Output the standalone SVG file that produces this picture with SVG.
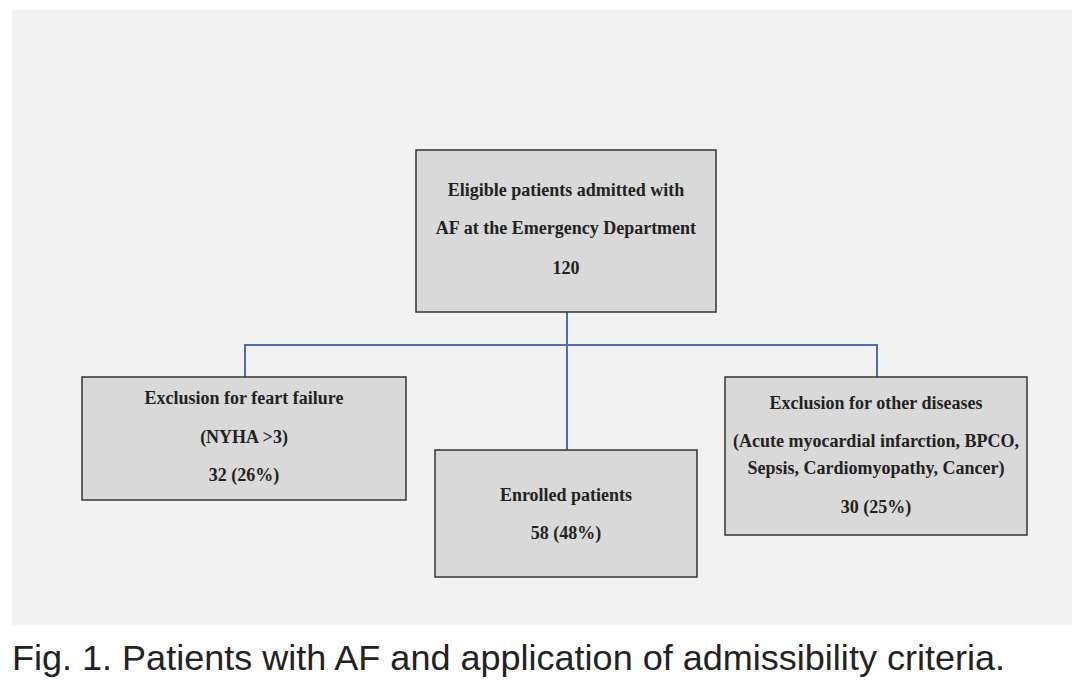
<svg xmlns="http://www.w3.org/2000/svg" width="1080" height="691" viewBox="0 0 1080 691">
<style>
.box{fill:#d9d9d9;stroke:#333;stroke-width:1.5}
.t{font-family:"Liberation Serif",serif;font-weight:bold;font-size:18px;fill:#222;text-anchor:middle}
.c{stroke:#4a6fb5;stroke-width:2;fill:none}
</style>
<rect width="1080" height="691" fill="#fff"/>
<rect x="12" y="10" width="1060" height="615" fill="#f2f2f2"/>
<g id="connectors">
<path class="c" d="M567 312V450M245 377V345H877V377"/>
</g>
<g id="top"><rect class="box" x="416" y="150" width="300" height="162"/>
<text class="t" x="566" y="196">Eligible patients admitted with</text>
<text class="t" x="566" y="234">AF at the Emergency Department</text>
<text class="t" x="566" y="274">120</text></g>
<g id="left"><rect class="box" x="82" y="377" width="324" height="123"/>
<text class="t" x="244" y="404">Exclusion for feart failure</text>
<text class="t" x="244" y="443">(NYHA &gt;3)</text>
<text class="t" x="244" y="481">32 (26%)</text></g>
<g id="middle"><rect class="box" x="435" y="450" width="262" height="127"/>
<text class="t" x="566" y="501">Enrolled patients</text>
<text class="t" x="566" y="539">58  (48%)</text></g>
<g id="right"><rect class="box" x="725" y="377" width="302" height="158"/>
<text class="t" x="876" y="409">Exclusion for other diseases</text>
<text class="t" x="876" y="447">(Acute myocardial infarction, BPCO,</text>
<text class="t" x="876" y="474">Sepsis, Cardiomyopathy, Cancer)</text>
<text class="t" x="876" y="513">30 (25%)</text></g>
<text x="12" y="670" font-family="Liberation Sans,sans-serif" font-size="35" textLength="993" lengthAdjust="spacingAndGlyphs" fill="#222">Fig. 1. Patients with AF and application of admissibility criteria.</text>
</svg>
